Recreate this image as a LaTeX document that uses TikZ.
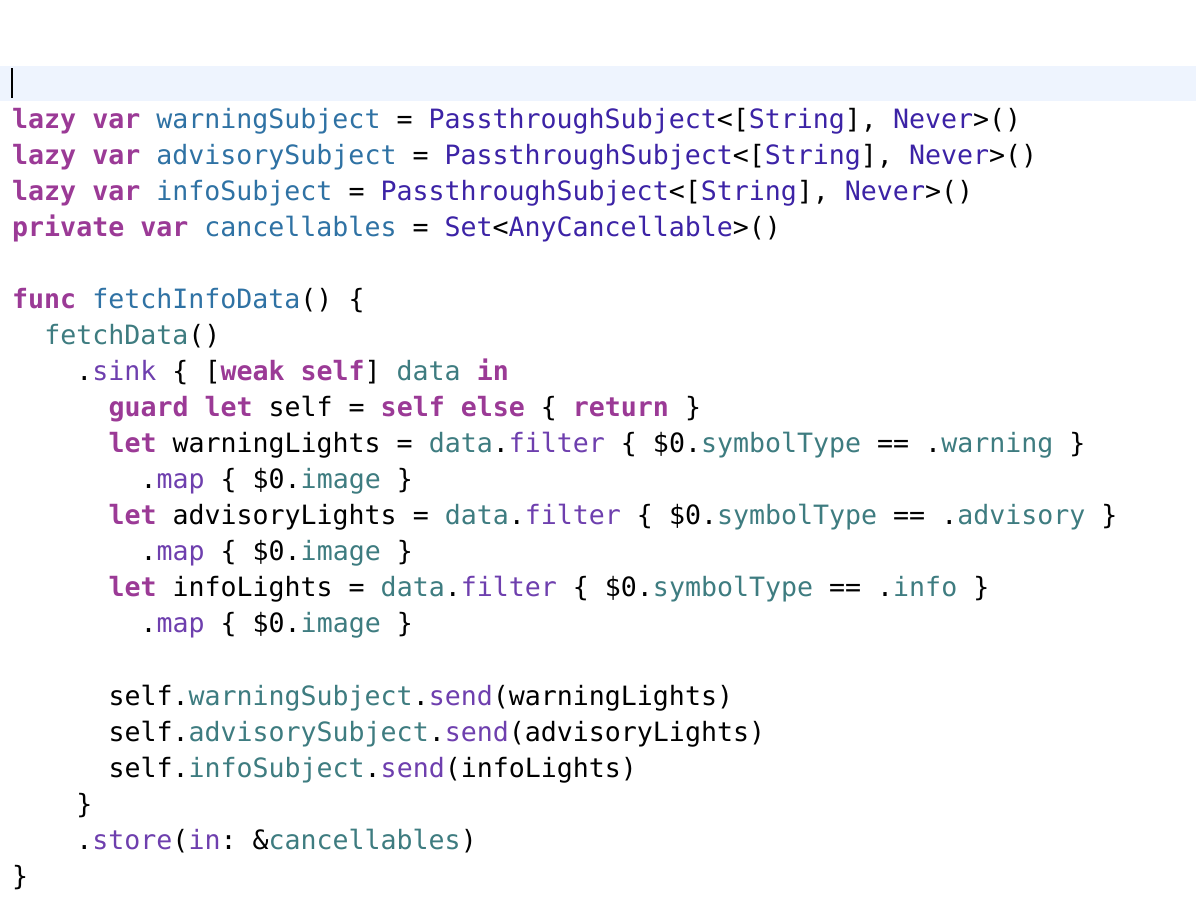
\documentclass[tikz,border=0pt]{standalone}
\usepackage{fontspec}
\setmonofont{DejaVu Sans Mono}
\definecolor{kwc}{HTML}{9B3A96}
\definecolor{dcc}{HTML}{2F72A4}
\definecolor{tyc}{HTML}{3C23A6}
\definecolor{prc}{HTML}{3E7C80}
\definecolor{mec}{HTML}{6E3FAE}
\definecolor{hlc}{HTML}{EEF4FE}
\newcommand{\kw}[1]{\textcolor{kwc}{\bfseries #1}}
\newcommand{\dc}[1]{\textcolor{dcc}{#1}}
\newcommand{\ty}[1]{\textcolor{tyc}{#1}}
\newcommand{\pr}[1]{\textcolor{prc}{#1}}
\newcommand{\me}[1]{\textcolor{mec}{#1}}
\begin{document}
\begin{tikzpicture}[x=1pt,y=1pt,
  code/.style={anchor=base west,inner sep=0pt,font=\ttfamily\fontsize{26.6}{30}\selectfont}]
\useasboundingbox (0,0) rectangle (1196,916);
\fill[white] (0,0) rectangle (1196,916);
\fill[hlc] (0,815) rectangle (1196,850);
\fill[black] (11,818) rectangle (13,848);
\def\Y#1{\fpeval{916-129-36*#1}}
\def\X#1{\fpeval{12+16.05*#1}}
\node[code] (l0) at (\X0,\Y0) {\kw{lazy} \kw{var} \dc{warningSubject} = \ty{PassthroughSubject}<[\ty{String}], \ty{Never}>()};
\node[code] (l1) at (\X0,\Y1) {\kw{lazy} \kw{var} \dc{advisorySubject} = \ty{PassthroughSubject}<[\ty{String}], \ty{Never}>()};
\node[code] (l2) at (\X0,\Y2) {\kw{lazy} \kw{var} \dc{infoSubject} = \ty{PassthroughSubject}<[\ty{String}], \ty{Never}>()};
\node[code] (l3) at (\X0,\Y3) {\kw{private} \kw{var} \dc{cancellables} = \ty{Set}<\ty{AnyCancellable}>()};
\node[code] (l5) at (\X0,\Y5) {\kw{func} \dc{fetchInfoData}() \{};
\node[code] (l6) at (\X2,\Y6) {\pr{fetchData}()};
\node[code] (l7) at (\X4,\Y7) {.\me{sink} \{ [\kw{weak} \kw{self}] \pr{data} \kw{in}};
\node[code] (l8) at (\X6,\Y8) {\kw{guard} \kw{let} self = \kw{self} \kw{else} \{ \kw{return} \}};
\node[code] (l9) at (\X6,\Y9) {\kw{let} warningLights = \pr{data}.\me{filter} \{ \$0.\pr{symbolType} == .\pr{warning} \}};
\node[code] (l10) at (\X8,\Y{10}) {.\me{map} \{ \$0.\pr{image} \}};
\node[code] (l11) at (\X6,\Y{11}) {\kw{let} advisoryLights = \pr{data}.\me{filter} \{ \$0.\pr{symbolType} == .\pr{advisory} \}};
\node[code] (l12) at (\X8,\Y{12}) {.\me{map} \{ \$0.\pr{image} \}};
\node[code] (l13) at (\X6,\Y{13}) {\kw{let} infoLights = \pr{data}.\me{filter} \{ \$0.\pr{symbolType} == .\pr{info} \}};
\node[code] (l14) at (\X8,\Y{14}) {.\me{map} \{ \$0.\pr{image} \}};
\node[code] (l16) at (\X6,\Y{16}) {self.\pr{warningSubject}.\me{send}(warningLights)};
\node[code] (l17) at (\X6,\Y{17}) {self.\pr{advisorySubject}.\me{send}(advisoryLights)};
\node[code] (l18) at (\X6,\Y{18}) {self.\pr{infoSubject}.\me{send}(infoLights)};
\node[code] (l19) at (\X4,\Y{19}) {\}};
\node[code] (l20) at (\X4,\Y{20}) {.\me{store}(\me{in}: \&\pr{cancellables})};
\node[code] (l21) at (\X0,\Y{21}) {\}};
\end{tikzpicture}
\end{document}
